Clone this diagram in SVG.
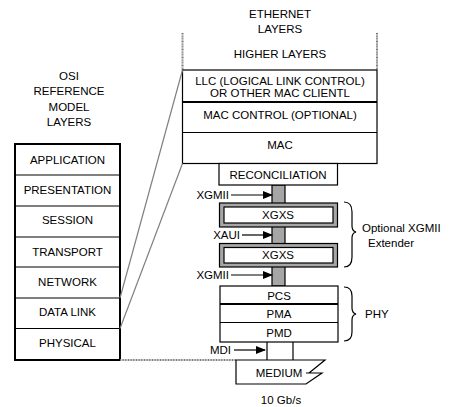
<svg xmlns="http://www.w3.org/2000/svg" width="452" height="407" viewBox="0 0 452 407">
<style>
text{font-family:"Liberation Sans",Arial,sans-serif;font-size:11.5px;fill:#000}
.c{text-anchor:middle}
.e{text-anchor:end}
.b{fill:none;stroke:#000;stroke-width:1.2}
.w{fill:#fff;stroke:#000;stroke-width:1.2}
.g{fill:#a6a6a6;stroke:#000;stroke-width:1.2}
.gl{fill:none;stroke:#808080;stroke-width:1.2}
.gd{fill:none;stroke:#7a7a7a;stroke-width:2;stroke-dasharray:1 0.6}
.ln{stroke:#000;stroke-width:1.2}
</style>
<defs>
<marker id="ah" markerWidth="10" markerHeight="8" refX="9" refY="4" orient="auto" markerUnits="userSpaceOnUse">
<path d="M0,0 L10,4 L0,8 Z" fill="#000"/>
</marker>
</defs>
<rect width="452" height="407" fill="#fff"/>

<g id="osi-title">
<text class="c" x="69" y="79.5">OSI</text>
<text class="c" x="69" y="95">REFERENCE</text>
<text class="c" x="69" y="111">MODEL</text>
<text class="c" x="69" y="126">LAYERS</text>
</g>
<g id="osi-stack">
<rect x="15" y="144" width="105" height="216" fill="#fff" stroke="#000" stroke-width="2"/>
<line class="ln" x1="15" y1="175" x2="120" y2="175"/>
<line class="ln" x1="15" y1="206" x2="120" y2="206"/>
<line class="ln" x1="15" y1="237" x2="120" y2="237"/>
<line class="ln" x1="15" y1="267" x2="120" y2="267"/>
<line class="ln" x1="15" y1="298" x2="120" y2="298"/>
<line class="ln" x1="15" y1="328.5" x2="120" y2="328.5"/>
<text class="c" x="67.5" y="164">APPLICATION</text>
<text class="c" x="67.5" y="194">PRESENTATION</text>
<text class="c" x="67.5" y="224">SESSION</text>
<text class="c" x="67.5" y="255.5">TRANSPORT</text>
<text class="c" x="67.5" y="285.5">NETWORK</text>
<text class="c" x="67.5" y="315.5">DATA LINK</text>
<text class="c" x="67.5" y="346.5">PHYSICAL</text>
</g>

<g id="eth-title">
<text class="c" x="280" y="18">ETHERNET</text>
<text class="c" x="280" y="33">LAYERS</text>
</g>
<g id="eth-stack">
<line class="gd" x1="182.5" y1="33" x2="182.5" y2="70"/>
<line class="gd" x1="377" y1="33" x2="377" y2="70"/>
<text class="c" x="280" y="58">HIGHER LAYERS</text>
<rect class="b" x="182.5" y="70" width="194.5" height="93.5"/>
<line x1="182.5" y1="102" x2="377" y2="102" stroke="#000" stroke-width="2.2"/>
<line class="ln" x1="182.5" y1="132.5" x2="377" y2="132.5"/>
<text class="c" x="280" y="85">LLC (LOGICAL LINK CONTROL)</text>
<text class="c" x="280" y="97">OR OTHER MAC CLIENTL</text>
<text class="c" x="280" y="119">MAC CONTROL (OPTIONAL)</text>
<text class="c" x="280" y="149">MAC</text>
</g>

<g id="connectors">
<line class="gl" x1="120" y1="298" x2="182.5" y2="70"/>
<line class="gl" x1="120" y1="328.5" x2="182.5" y2="163.5"/>
<line class="gd" x1="120" y1="360" x2="236" y2="360"/>
<rect class="g" x="272" y="185" width="13" height="101"/>
<line class="ln" x1="231" y1="195" x2="272" y2="195" marker-end="url(#ah)"/>
<line class="ln" x1="242" y1="235" x2="272" y2="235" marker-end="url(#ah)"/>
<line class="ln" x1="231" y1="275" x2="272" y2="275" marker-end="url(#ah)"/>
<line class="ln" x1="234" y1="350" x2="265" y2="350" marker-end="url(#ah)"/>
<line class="ln" x1="267" y1="342" x2="267" y2="360"/>
<line class="ln" x1="293" y1="342" x2="293" y2="360"/>
<text class="e" x="229" y="199">XGMII</text>
<text class="e" x="240" y="239">XAUI</text>
<text class="e" x="229" y="279">XGMII</text>
<text class="e" x="231" y="354">MDI</text>
</g>

<g id="reconciliation">
<rect class="w" x="219" y="163.5" width="118.5" height="21.5"/>
<text class="c" x="278" y="179">RECONCILIATION</text>
</g>

<g id="xgxs1">
<rect class="g" x="219.5" y="203" width="118" height="24"/>
<rect class="w" x="224" y="207" width="109" height="16"/>
<text class="c" x="278" y="219">XGXS</text>
</g>
<g id="xgxs2">
<rect class="g" x="219.5" y="243.5" width="118" height="23.5"/>
<rect class="w" x="224" y="247.5" width="109" height="15.5"/>
<text class="c" x="278" y="259">XGXS</text>
</g>

<g id="extender-brace">
<path class="b" d="M344,202 Q352,202 352,212 L352,226 Q352,231 356,232 Q352,233 352,238 L352,257 Q352,267 344,267"/>
<text x="362" y="232">Optional XGMII</text>
<text x="368" y="247">Extender</text>
</g>

<g id="phy">
<rect class="w" x="220" y="286" width="118" height="56"/>
<line x1="220" y1="304" x2="338" y2="304" stroke="#000" stroke-width="2.2"/>
<line class="ln" x1="220" y1="322.5" x2="338" y2="322.5"/>
<text class="c" x="279" y="300">PCS</text>
<text class="c" x="279" y="318">PMA</text>
<text class="c" x="279" y="337">PMD</text>
</g>
<g id="phy-brace">
<path class="b" d="M344,287 Q352,287 352,296 L352,308 Q352,313 356,314 Q352,315 352,320 L352,332 Q352,341 344,341"/>
<text x="365" y="318">PHY</text>
</g>

<g id="medium">
<path class="b" d="M309,373 L325,360 L236,360 L236,384 L306,384 L322,373 L306,373"/>
<text class="c" x="279" y="377">MEDIUM</text>
</g>
<text class="c" x="281" y="404">10 Gb/s</text>
</svg>
